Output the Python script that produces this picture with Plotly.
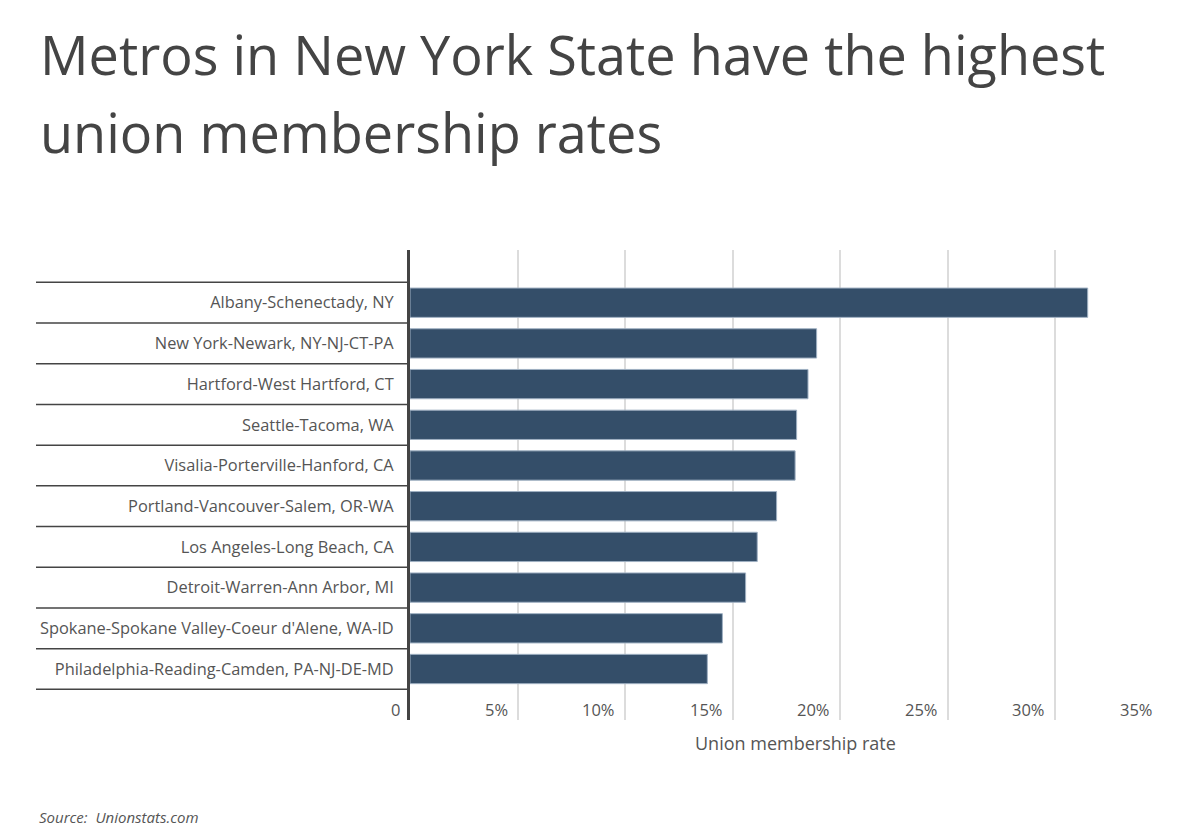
import plotly.graph_objects as go

metros = [
    "Albany-Schenectady, NY",
    "New York-Newark, NY-NJ-CT-PA",
    "Hartford-West Hartford, CT",
    "Seattle-Tacoma, WA",
    "Visalia-Porterville-Hanford, CA",
    "Portland-Vancouver-Salem, OR-WA",
    "Los Angeles-Long Beach, CA",
    "Detroit-Warren-Ann Arbor, MI",
    "Spokane-Spokane Valley-Coeur d'Alene, WA-ID",
    "Philadelphia-Reading-Camden, PA-NJ-DE-MD",
]
rates = [31.5, 18.9, 18.5, 17.97, 17.9, 17.04, 16.14, 15.6, 14.52, 13.82]
tick_vals = [0, 5, 10, 15, 20, 25, 30, 35]
tick_text = ["0", "5%", "10%", "15%", "20%", "25%", "30%", "35%"]

FONT = "Open Sans"
TXT = "#555555"

ML, MR, MT, MB = 410, 37, 250, 118
W, H = 1200, 838
plot_w = W - ML - MR
plot_h = H - MT - MB


def px_x(px):
    return (px - ML) / plot_w


def px_y(py):
    return (H - MB - py) / plot_h


fig = go.Figure()
fig.add_trace(go.Bar(
    x=rates, y=metros, orientation="h",
    marker=dict(color="#344e69", line=dict(color="#9fb0c2", width=1)),
    hoverinfo="x+y",
))

n = len(metros)
shapes = []
for i in range(n + 1):
    shapes.append(dict(
        type="line", xref="paper", yref="y",
        x0=px_x(36), x1=0, y0=i - 0.5, y1=i - 0.5,
        line=dict(color="#444444", width=1.5),
    ))

annotations = [
    dict(text="Metros in New York State have the highest",
         x=px_x(38), y=px_y(80), yshift=-13.5),
    dict(text="union membership rates",
         x=px_x(38), y=px_y(157), yshift=-13.5),
]
for a in annotations:
    a.update(xref="paper", yref="paper", xanchor="left", yanchor="bottom",
             showarrow=False, font=dict(family=FONT, size=54, color="#444444"))

for v, t in zip(tick_vals, tick_text):
    annotations.append(dict(
        text=t, x=v, xref="x", y=px_y(709), yref="paper",
        xanchor="right", yanchor="middle", xshift=-8,
        showarrow=False, font=dict(size=16.5, color=TXT),
    ))

annotations += [
    dict(text="Union membership rate", xref="paper", yref="paper",
         x=px_x(795.5), y=px_y(743), xanchor="center", yanchor="middle",
         showarrow=False, font=dict(size=18, color=TXT)),
    dict(text="<i>Source:  Unionstats.com</i>", xref="paper", yref="paper",
         x=px_x(37), y=px_y(817), xanchor="left", yanchor="middle",
         showarrow=False, font=dict(size=15, color=TXT)),
]

fig.update_layout(
    width=W, height=H,
    margin=dict(l=ML, r=MR, t=MT, b=MB),
    paper_bgcolor="white", plot_bgcolor="white",
    font=dict(family=FONT, color=TXT, size=16),
    bargap=0.28,
    showlegend=False,
    shapes=shapes,
    annotations=annotations,
    xaxis=dict(
        range=[0, 35],
        tickvals=tick_vals,
        showticklabels=False,
        showgrid=True, gridcolor="#dcdcdc", gridwidth=1.5,
        zeroline=False, showline=False,
        fixedrange=True,
    ),
    yaxis=dict(
        type="category",
        categoryarray=metros,
        range=[10.253, -1.295],
        showline=True, linecolor="#444444", linewidth=3,
        showgrid=False, zeroline=False,
        ticks="", ticklabelstandoff=10,
        tickfont=dict(size=16.4, color=TXT),
        fixedrange=True,
    ),
)

fig.write_html("out.html")
